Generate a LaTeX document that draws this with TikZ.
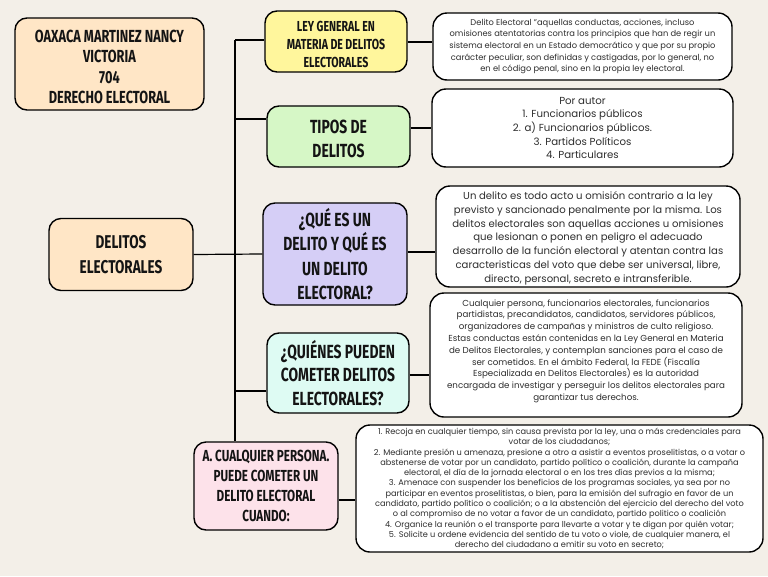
\documentclass[tikz,border=0pt]{standalone}
\usepackage{fontspec}
\setmainfont{Poppins}
\newfontfamily\headfont{Fira Sans}[FakeStretch=0.73]
\definecolor{bgcol}{HTML}{F3EFE8}
\definecolor{peach}{HTML}{FFE6C6}
\definecolor{yel}{HTML}{FFF69C}
\definecolor{grn}{HTML}{D6F7C6}
\definecolor{lav}{HTML}{D5CEF6}
\definecolor{mint}{HTML}{DEFBF3}
\definecolor{pnk}{HTML}{FDE2EA}
\definecolor{bodytxt}{HTML}{2E2E2E}
\newcommand\toppad[1]{\rule{0pt}{#1}}
\newcommand\botpad[1]{\rule[-#1]{0pt}{0pt}}
\tikzset{
  head/.style={draw=black, line width=1.4pt, rounded corners=12pt, align=center,
    inner sep=0pt, text=black!92, font=\headfont\bfseries},
  txtbox/.style={draw=black, line width=1.4pt, fill=white, rounded corners=14pt,
    align=center, inner sep=0pt, text=bodytxt},
  link/.style={draw=black, line width=1.2pt}
}
\begin{document}
\begin{tikzpicture}[x=1pt,y=-1pt]
\useasboundingbox (0,0) rectangle (768,576);
\fill[bgcol] (0,0) rectangle (768,576);

% heading boxes
\node[head, fill=peach, minimum width=189pt, minimum height=92pt,
  font=\headfont\bfseries\fontsize{17.5}{20.3}\selectfont] (name) at (109.5,64)
  {\toppad{18pt}OAXACA MARTINEZ NANCY\\VICTORIA\\704\\DERECHO ELECTORAL};
\node[head, fill=peach, minimum width=144pt, minimum height=72pt,
  font=\headfont\bfseries\fontsize{18.5}{25}\selectfont] (del) at (121,254.5)
  {DELITOS\\ELECTORALES};
\node[head, fill=yel, minimum width=142pt, minimum height=61pt,
  font=\headfont\bfseries\fontsize{14.5}{18.3}\selectfont] (ley) at (336,41.5)
  {\toppad{16.5pt}LEY GENERAL EN\\MATERIA DE DELITOS\\ELECTORALES};
\node[head, fill=grn, minimum width=143pt, minimum height=61pt,
  font=\headfont\bfseries\fontsize{19}{24}\selectfont] (tipos) at (338.5,136.5)
  {\toppad{18pt}TIPOS DE\\DELITOS};
\node[head, fill=lav, minimum width=144pt, minimum height=102pt,
  font=\headfont\bfseries\fontsize{19}{24.3}\selectfont] (que) at (335,254)
  {¿QUÉ ES UN\\DELITO Y QUÉ ES\\UN DELITO\\ELECTORAL?};
\node[head, fill=mint, minimum width=142pt, minimum height=80pt,
  font=\headfont\bfseries\fontsize{19}{23.3}\selectfont] (quien) at (338,373)
  {¿QUIÉNES PUEDEN\\COMETER DELITOS\\ELECTORALES?};
\node[head, fill=pnk, minimum width=144pt, minimum height=88pt,
  font=\headfont\bfseries\fontsize{16}{20.2}\selectfont] (cual) at (266,486)
  {A. CUALQUIER PERSONA.\\PUEDE COMETER UN\\DELITO ELECTORAL\\CUANDO:};

% text boxes
\node[txtbox, minimum width=299pt, minimum height=67pt,
  font=\fontsize{8.3}{11.6}\selectfont] (r1) at (582.5,46.5)
  {Delito Electoral "aquellas conductas, acciones, incluso\\omisiones atentatorias contra los principios que han de regir un\\sistema electoral en un Estado democrático y que por su propio\\carácter peculiar, son definidas y castigadas, por lo general, no\\en el código penal, sino en la propia ley electoral.};
\node[txtbox, minimum width=301pt, minimum height=78pt,
  font=\fontsize{10.2}{13.6}\selectfont] (r2) at (582.5,128)
  {Por autor\\1. Funcionarios públicos\\2. a) Funcionarios públicos.\\3. Partidos Políticos\\4. Particulares};
\node[txtbox, minimum width=304pt, minimum height=101pt,
  font=\fontsize{10.1}{13.8}\selectfont] (r3) at (588,236.5)
  {\toppad{11.5pt}Un delito es todo acto u omisión contrario a la ley\\previsto y sancionado penalmente por la misma. Los\\delitos electorales son aquellas acciones u omisiones\\que lesionan o ponen en peligro el adecuado\\desarrollo de la función electoral y atentan contra las\\caracteristicas del voto que debe ser universal, libre,\\directo, personal, secreto e intransferible.};
\node[txtbox, minimum width=312pt, minimum height=124pt,
  font=\fontsize{8.7}{11.8}\selectfont] (r4) at (586,355)
  {Cualquier persona, funcionarios electorales, funcionarios\\partidistas, precandidatos, candidatos, servidores públicos,\\organizadores de campañas y ministros de culto religioso.\\Estas conductas están contenidas en la Ley General en Materia\\de Delitos Electorales, y contemplan sanciones para el caso de\\ser cometidos. En el ámbito Federal, la FEDE (Fiscalía\\Especializada en Delitos Electorales) es la autoridad\\encargada de investigar y perseguir los delitos electorales para\\garantizar tus derechos.\botpad{10pt}};
\node[txtbox, minimum width=407pt, minimum height=127pt,
  font=\fontsize{8.2}{10.3}\selectfont] (r5) at (559.5,488.5)
  {1. Recoja en cualquier tiempo, sin causa prevista por la ley, una o más credenciales para\\votar de los ciudadanos;\\2. Mediante presión u amenaza, presione a otro a asistir a eventos proselitistas, o a votar o\\abstenerse de votar por un candidato, partido político o coalición, durante la campaña\\electoral, el día de la jornada electoral o en los tres días previos a la misma;\\3. Amenace con suspender los beneficios de los programas sociales, ya sea por no\\participar en eventos proselitistas, o bien, para la emisión del sufragio en favor de un\\candidato, partido político o coalición; o a la abstención del ejercicio del derecho del voto\\o al compromiso de no votar a favor de un candidato, partido politico o coalición\\4. Organice la reunión o el transporte para llevarte a votar y te digan por quién votar;\\5. Solicite u ordene evidencia del sentido de tu voto o viole, de cualquier manera, el\\derecho del ciudadano a emitir su voto en secreto;};

% connectors
\coordinate (ttop) at (235,40);
\coordinate (tt2) at (235,119);
\coordinate (tt4) at (235,391);
\draw[link] (ttop) -- (ttop |- cual.north);
\draw[link] (ttop) -- (ttop -| ley.west);
\draw[link] (tt2) -- (tt2 -| tipos.west);
\draw[link] (del.east) -- (que.west);
\draw[link] (tt4) -- (tt4 -| quien.west);
\coordinate (ya) at (0,42);
\coordinate (yb) at (0,128);
\coordinate (yc) at (0,252);
\coordinate (yd) at (0,375);
\coordinate (ye) at (0,500);
\draw[link] (ley.east |- ya) -- (r1.west |- ya);
\draw[link] (tipos.east |- yb) -- (r2.west |- yb);
\draw[link] (que.east |- yc) -- (r3.west |- yc);
\draw[link] (quien.east |- yd) -- (r4.west |- yd);
\draw[link] (cual.east |- ye) -- (r5.west |- ye);
\end{tikzpicture}
\end{document}
